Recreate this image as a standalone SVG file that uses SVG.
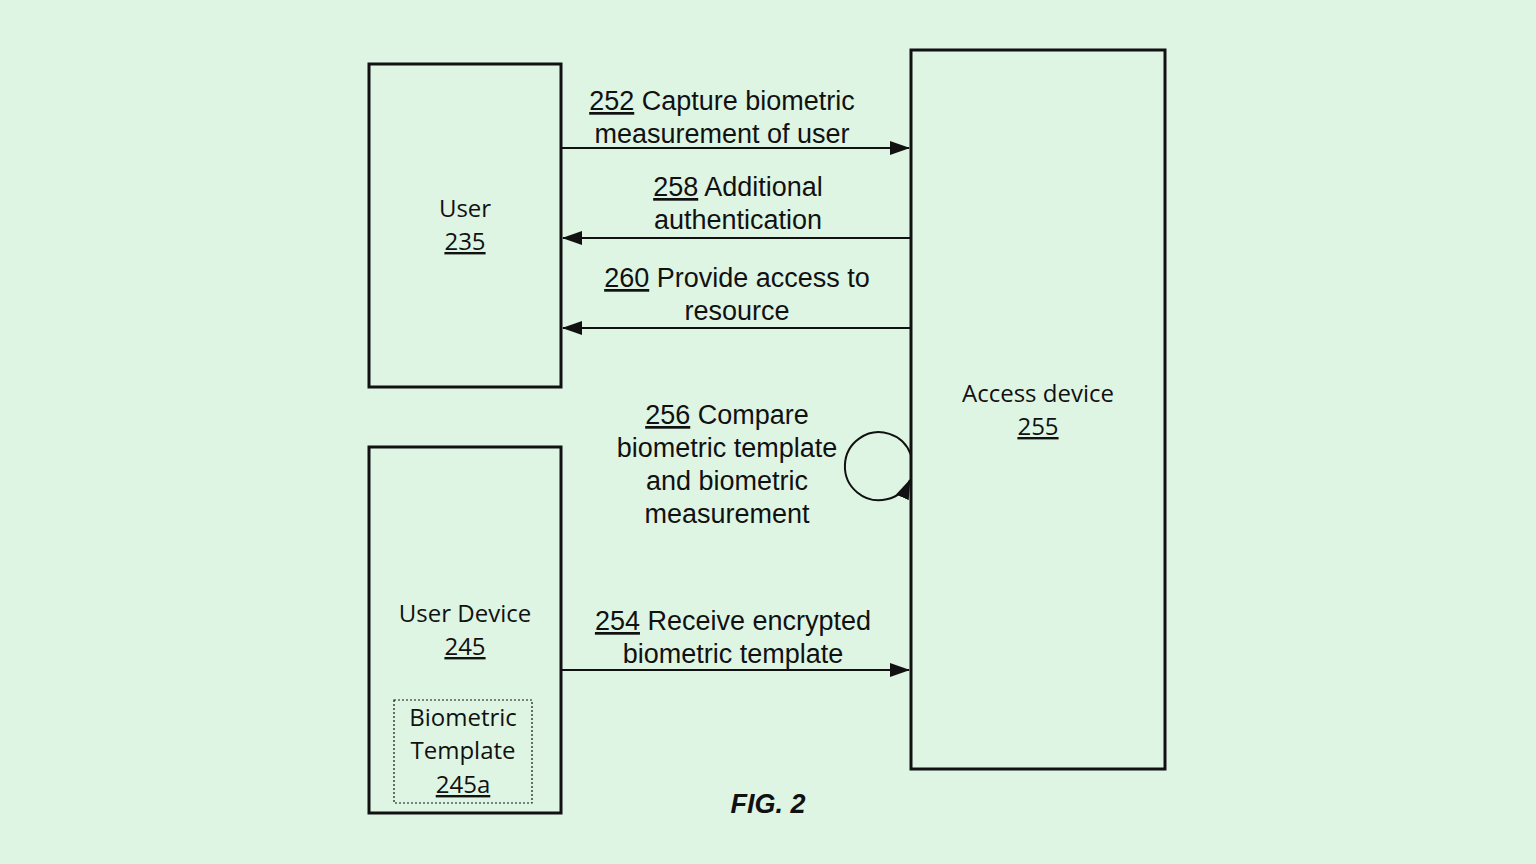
<svg xmlns="http://www.w3.org/2000/svg" width="1536" height="864" viewBox="0 0 1536 864">
<defs>
<marker id="ah" markerWidth="20" markerHeight="14" refX="19" refY="7" orient="auto" markerUnits="userSpaceOnUse"><path d="M0,0 L20,7 L0,14 Z" fill="#111"/></marker>
</defs>
<style>
.box{fill:none;stroke:#111;stroke-width:3}
.lbl{font-family:"Open Sans","Liberation Sans",sans-serif;font-size:24px;fill:#111;text-anchor:middle}
.al{font-family:"Liberation Sans",Arial,sans-serif;font-size:27px;fill:#111;text-anchor:middle}
.u{text-decoration:underline}
.ln{stroke:#111;stroke-width:2;fill:none}
</style>
<rect width="1536" height="864" fill="#dff5e4"/>
<g id="user"><rect class="box" x="369" y="64" width="192" height="323"/>
<text class="lbl" x="465" y="217">User</text><text class="lbl u" x="465" y="250">235</text></g>
<g id="userdevice"><rect class="box" x="369" y="447" width="192" height="366"/>
<text class="lbl" x="465" y="622">User Device</text><text class="lbl u" x="465" y="655">245</text></g>
<g id="template"><rect x="394" y="700" width="138" height="103" fill="none" stroke="#111" stroke-width="1.2" stroke-dasharray="2,2"/>
<text class="lbl" x="463" y="726">Biometric</text><text class="lbl" x="463" y="759">Template</text><text class="lbl u" x="463" y="793">245a</text></g>
<g id="access"><rect class="box" x="911" y="50" width="254" height="719"/>
<text class="lbl" x="1038" y="402">Access device</text><text class="lbl u" x="1038" y="435">255</text></g>
<g id="connectors">
<line class="ln" x1="561" y1="148" x2="909" y2="148" marker-end="url(#ah)"/>
<line class="ln" x1="911" y1="238" x2="563" y2="238" marker-end="url(#ah)"/>
<line class="ln" x1="911" y1="328" x2="563" y2="328" marker-end="url(#ah)"/>
<line class="ln" x1="561" y1="670" x2="909" y2="670" marker-end="url(#ah)"/>
<path class="ln" stroke-width="3" d="M911,455 A34,34 0 1 0 910,480" marker-end="url(#ah)"/>
</g>
<g id="labels">
<text class="al" x="722" y="110"><tspan class="u">252</tspan> Capture biometric</text>
<text class="al" x="722" y="143">measurement of user</text>
<text class="al" x="738" y="196"><tspan class="u">258</tspan> Additional</text>
<text class="al" x="738" y="229">authentication</text>
<text class="al" x="737" y="287"><tspan class="u">260</tspan> Provide access to</text>
<text class="al" x="737" y="320">resource</text>
<text class="al" x="727" y="424"><tspan class="u">256</tspan> Compare</text>
<text class="al" x="727" y="457">biometric template</text>
<text class="al" x="727" y="490">and biometric</text>
<text class="al" x="727" y="523">measurement</text>
<text class="al" x="733" y="630"><tspan class="u">254</tspan> Receive encrypted</text>
<text class="al" x="733" y="663">biometric template</text>
<text class="al" x="768" y="813" font-style="italic" font-weight="bold" font-size="30">FIG. 2</text>
</g>
</svg>
